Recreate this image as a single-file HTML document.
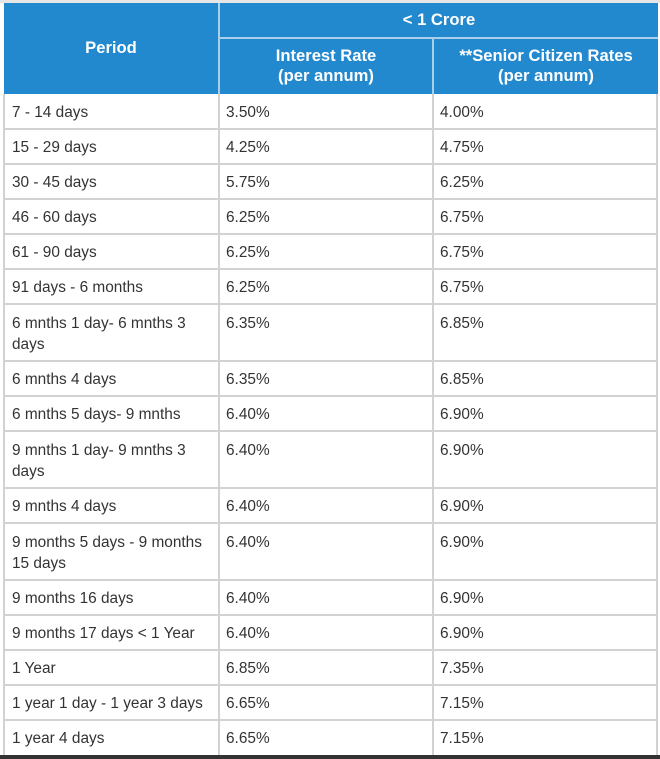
<!DOCTYPE html>
<html><head><meta charset="utf-8"><style>
html,body{margin:0;padding:0;background:#fff;width:660px;height:759px;overflow:hidden;position:relative}
div{position:absolute;box-sizing:border-box}
.h{background:#2389cf}
.t{font-family:"Liberation Sans",Arial,sans-serif;font-size:15.4px;color:#333;line-height:21px;white-space:nowrap}
.w{font-family:"Liberation Sans",Arial,sans-serif;font-size:16.6px;font-weight:bold;color:#fff;line-height:20px;text-align:center;white-space:nowrap}
.hl{background:#d2d2d2}
.bl{background:#a9cfea}
</style></head><body>
<div style="left:0;top:0;width:660px;height:3px;background:#e6e6e6"></div>
<div class="h" style="left:4px;top:3px;width:654px;height:91px"></div>
<div class="bl" style="left:218px;top:3px;width:2px;height:91px"></div>
<div class="bl" style="left:220px;top:37px;width:438px;height:2px"></div>
<div class="bl" style="left:432px;top:39px;width:2px;height:55px"></div>
<div class="w" style="left:4px;top:38px;width:214px">Period</div>
<div class="w" style="left:220px;top:10px;width:438px">&lt; 1 Crore</div>
<div class="w" style="left:220px;top:46px;width:212px">Interest Rate<br>(per annum)</div>
<div class="w" style="left:434px;top:46px;width:224px">**Senior Citizen Rates<br>(per annum)</div>

<div class="hl" style="left:3px;top:94px;width:2px;height:662px"></div>
<div class="hl" style="left:218px;top:94px;width:2px;height:662px"></div>
<div class="hl" style="left:432px;top:94px;width:2px;height:662px"></div>
<div class="hl" style="left:656px;top:94px;width:2px;height:662px"></div>
<div class="hl" style="left:4px;top:128px;width:654px;height:2px"></div>
<div class="hl" style="left:4px;top:163px;width:654px;height:2px"></div>
<div class="hl" style="left:4px;top:198px;width:654px;height:2px"></div>
<div class="hl" style="left:4px;top:233px;width:654px;height:2px"></div>
<div class="hl" style="left:4px;top:268px;width:654px;height:2px"></div>
<div class="hl" style="left:4px;top:303px;width:654px;height:2px"></div>
<div class="hl" style="left:4px;top:360px;width:654px;height:2px"></div>
<div class="hl" style="left:4px;top:395px;width:654px;height:2px"></div>
<div class="hl" style="left:4px;top:430px;width:654px;height:2px"></div>
<div class="hl" style="left:4px;top:487px;width:654px;height:2px"></div>
<div class="hl" style="left:4px;top:522px;width:654px;height:2px"></div>
<div class="hl" style="left:4px;top:579px;width:654px;height:2px"></div>
<div class="hl" style="left:4px;top:614px;width:654px;height:2px"></div>
<div class="hl" style="left:4px;top:649px;width:654px;height:2px"></div>
<div class="hl" style="left:4px;top:684px;width:654px;height:2px"></div>
<div class="hl" style="left:4px;top:719px;width:654px;height:2px"></div>
<div style="left:0;top:755px;width:660px;height:4px;background:#333"></div>

<div class="t" style="left:12px;top:102px">7 - 14 days</div><div class="t" style="left:226px;top:102px">3.50%</div><div class="t" style="left:440px;top:102px">4.00%</div>
<div class="t" style="left:12px;top:137px">15 - 29 days</div><div class="t" style="left:226px;top:137px">4.25%</div><div class="t" style="left:440px;top:137px">4.75%</div>
<div class="t" style="left:12px;top:172px">30 - 45 days</div><div class="t" style="left:226px;top:172px">5.75%</div><div class="t" style="left:440px;top:172px">6.25%</div>
<div class="t" style="left:12px;top:207px">46 - 60 days</div><div class="t" style="left:226px;top:207px">6.25%</div><div class="t" style="left:440px;top:207px">6.75%</div>
<div class="t" style="left:12px;top:242px">61 - 90 days</div><div class="t" style="left:226px;top:242px">6.25%</div><div class="t" style="left:440px;top:242px">6.75%</div>
<div class="t" style="left:12px;top:277px">91 days - 6 months</div><div class="t" style="left:226px;top:277px">6.25%</div><div class="t" style="left:440px;top:277px">6.75%</div>
<div class="t" style="left:12px;top:313px">6 mnths 1 day- 6 mnths 3<br>days</div><div class="t" style="left:226px;top:313px">6.35%</div><div class="t" style="left:440px;top:313px">6.85%</div>
<div class="t" style="left:12px;top:369px">6 mnths 4 days</div><div class="t" style="left:226px;top:369px">6.35%</div><div class="t" style="left:440px;top:369px">6.85%</div>
<div class="t" style="left:12px;top:404px">6 mnths 5 days- 9 mnths</div><div class="t" style="left:226px;top:404px">6.40%</div><div class="t" style="left:440px;top:404px">6.90%</div>
<div class="t" style="left:12px;top:440px">9 mnths 1 day- 9 mnths 3<br>days</div><div class="t" style="left:226px;top:440px">6.40%</div><div class="t" style="left:440px;top:440px">6.90%</div>
<div class="t" style="left:12px;top:496px">9 mnths 4 days</div><div class="t" style="left:226px;top:496px">6.40%</div><div class="t" style="left:440px;top:496px">6.90%</div>
<div class="t" style="left:12px;top:532px">9 months 5 days - 9 months<br>15 days</div><div class="t" style="left:226px;top:532px">6.40%</div><div class="t" style="left:440px;top:532px">6.90%</div>
<div class="t" style="left:12px;top:588px">9 months 16 days</div><div class="t" style="left:226px;top:588px">6.40%</div><div class="t" style="left:440px;top:588px">6.90%</div>
<div class="t" style="left:12px;top:623px">9 months 17 days &lt; 1 Year</div><div class="t" style="left:226px;top:623px">6.40%</div><div class="t" style="left:440px;top:623px">6.90%</div>
<div class="t" style="left:12px;top:658px">1 Year</div><div class="t" style="left:226px;top:658px">6.85%</div><div class="t" style="left:440px;top:658px">7.35%</div>
<div class="t" style="left:12px;top:693px">1 year 1 day - 1 year 3 days</div><div class="t" style="left:226px;top:693px">6.65%</div><div class="t" style="left:440px;top:693px">7.15%</div>
<div class="t" style="left:12px;top:728px">1 year 4 days</div><div class="t" style="left:226px;top:728px">6.65%</div><div class="t" style="left:440px;top:728px">7.15%</div>
</body></html>
